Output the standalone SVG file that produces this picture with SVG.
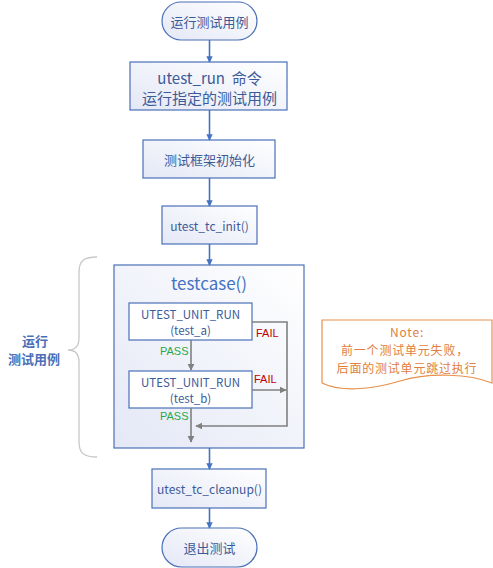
<svg xmlns="http://www.w3.org/2000/svg" width="493" height="568" viewBox="0 0 493 568">
<defs>
<linearGradient id="g" x1="1" y1="0" x2="0" y2="1">
<stop offset="0" stop-color="#ffffff"/>
<stop offset="1" stop-color="#e4e8f6"/>
</linearGradient>
<marker id="ab" viewBox="0 0 10 10" refX="9" refY="5" markerWidth="4" markerHeight="4" orient="auto"><path d="M0,0 L10,5 L0,10 z" fill="#4472c4"/></marker>
<marker id="ag" viewBox="0 0 10 10" refX="9" refY="5" markerWidth="4.5" markerHeight="4.5" orient="auto"><path d="M0,0 L10,5 L0,10 z" fill="#808080"/></marker>
<style>
.n{fill:url(#g);stroke:#4a70b8;stroke-width:1.2}
.i{fill:#ffffff;stroke:#4a70b8;stroke-width:1.2}
.t{font-family:"Noto Sans CJK SC","Liberation Sans",sans-serif;font-size:13px;fill:#3d5a98;text-anchor:middle;dominant-baseline:central}
.note{font-family:"Noto Sans CJK SC","Liberation Sans",sans-serif;font-size:12px;fill:#e08040;text-anchor:middle;dominant-baseline:central;letter-spacing:0.8px}
.c{stroke:#4472c4;stroke-width:1.6;fill:none;marker-end:url(#ab)}
.gc{stroke:#808080;stroke-width:1.6;fill:none}
.pass{font-family:"Liberation Sans",sans-serif;font-size:11px;fill:#2aa84a}
.fail{font-family:"Liberation Sans",sans-serif;font-size:11px;fill:#c00000}
</style>
</defs>
<g id="start">
<rect class="n" x="162" y="2" width="95" height="38" rx="19"/>
<text class="t" x="209.5" y="21">运行测试用例</text>
</g>
<g id="run">
<rect class="n" x="130" y="62" width="157" height="48"/>
<text class="t" x="209.5" y="77" style="font-size:15px">utest_run&#160;&#160;命令</text>
<text class="t" x="209.5" y="97" style="font-size:15px">运行指定的测试用例</text>
</g>
<g id="init-fw">
<rect class="n" x="143" y="140" width="132" height="38"/>
<text class="t" x="209.5" y="159">测试框架初始化</text>
</g>
<g id="tc-init">
<rect class="n" x="162" y="206" width="95" height="38"/>
<text class="t" x="209.5" y="225" style="font-size:12px">utest_tc_init()</text>
</g>
<g id="testcase">
<rect class="n" x="114" y="265" width="190" height="183"/>
<text class="t" x="209" y="282" style="font-size:17px;fill:#4472c4">testcase()</text>
</g>
<g id="test-a">
<rect class="i" x="129" y="303" width="123" height="37"/>
<text class="t" x="190.5" y="314" style="font-size:11.5px">UTEST_UNIT_RUN</text>
<text class="t" x="190.5" y="330" style="font-size:11.5px">(test_a)</text>
</g>
<g id="test-b">
<rect class="i" x="129" y="371" width="123" height="37"/>
<text class="t" x="190.5" y="382" style="font-size:11.5px">UTEST_UNIT_RUN</text>
<text class="t" x="190.5" y="398" style="font-size:11.5px">(test_b)</text>
</g>
<g id="note">
<path d="M322,320 H492 V383 C470,374 430,372 400,381 C370,390 340,392 322,383 Z" fill="#ffffff" stroke="#e8904a" stroke-width="1.2"/>
<text class="note" x="407" y="331">Note:</text>
<text class="note" x="405" y="349">前一个测试单元失败，</text>
<text class="note" x="407" y="367">后面的测试单元跳过执行</text>
</g>
<g id="cleanup">
<rect class="n" x="152" y="469" width="114" height="39"/>
<text class="t" x="209.5" y="488.5" style="font-size:12px">utest_tc_cleanup()</text>
</g>
<g id="end">
<rect class="n" x="162" y="528" width="95" height="39" rx="19.5"/>
<text class="t" x="209.5" y="547.5">退出测试</text>
</g>
<g id="connectors">
<path class="c" d="M209.5,40 V62"/>
<path class="c" d="M209.5,110 V140"/>
<path class="c" d="M209.5,178 V206"/>
<path class="c" d="M209.5,244 V265"/>
<path class="c" d="M209.5,448 V469"/>
<path class="c" d="M209.5,508 V528"/>
<path class="gc" d="M191,340 V370" marker-end="url(#ag)"/>
<path class="gc" d="M191,408 V442" marker-end="url(#ag)"/>
<path class="gc" d="M252,322 H287 V426 H196" marker-end="url(#ag)"/>
<path class="gc" d="M252,390 H286" marker-end="url(#ag)"/>
<path d="M97,257 C85,257 79,260 79,272 V338 C79,346 75,350 68,350 C75,350 79,354 79,362 V442 C79,454 85,457 97,457" fill="none" stroke="#c8c8c8" stroke-width="1.3"/>
</g>
<g id="labels">
<text class="pass" x="160" y="355">PASS</text>
<text class="pass" x="160" y="420">PASS</text>
<text class="fail" x="256" y="337">FAIL</text>
<text class="fail" x="254" y="383">FAIL</text>
<text class="t" x="35" y="340" style="font-weight:bold;fill:#4a70b8">运行</text>
<text class="t" x="34" y="358" style="font-weight:bold;fill:#4a70b8">测试用例</text>
</g>
</svg>
